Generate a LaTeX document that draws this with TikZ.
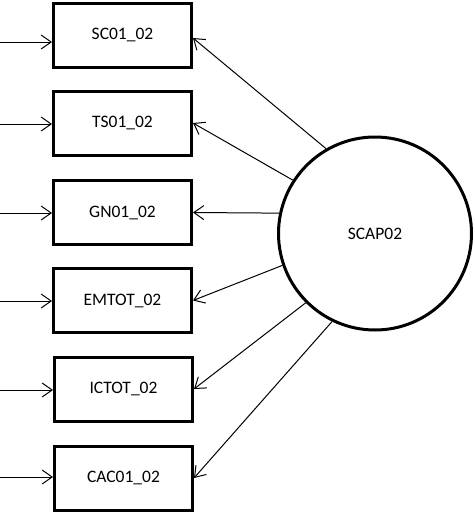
\documentclass[tikz,border=0pt]{standalone}
\usepackage{fontspec}
\setmainfont{Carlito}
\usetikzlibrary{arrows.meta}
\begin{document}
\begin{tikzpicture}[x=1pt,y=1pt,
  obs/.style={draw,line width=3pt,minimum width=138pt,minimum height=64pt,inner sep=0pt,font=\fontsize{17.5}{20}\selectfont},
  lat/.style={draw,circle,line width=3pt,minimum size=193pt,inner sep=0pt,font=\fontsize{17.5}{20}\selectfont},
  arr/.style={line width=1pt,-{Straight Barb[length=10pt,width=14pt,line width=1pt]}}]
\useasboundingbox (0,0) rectangle (474,-514);
\node[obs] (b1) at (122.5,-35) {SC01\_02};
\node[obs] (b2) at (122.5,-123) {TS01\_02};
\node[obs] (b3) at (122.5,-212.5) {GN01\_02};
\node[obs] (b4) at (122.5,-300.5) {EMTOT\_02};
\node[obs] (b5) at (123.5,-389) {ICTOT\_02};
\node[obs] (b6) at (123.5,-478) {CAC01\_02};
\node[lat] (c) at (375,-233.5) {SCAP02};
\coordinate (i1) at (0,-42);
\coordinate (i2) at (0,-124);
\coordinate (i3) at (0,-213);
\coordinate (i4) at (0,-301);
\coordinate (i5) at (0,-390);
\coordinate (i6) at (0,-477);
\draw[arr] (i1) -- (i1 -| b1.west);
\draw[arr] (i2) -- (i2 -| b2.west);
\draw[arr] (i3) -- (i3 -| b3.west);
\draw[arr] (i4) -- (i4 -| b4.west);
\draw[arr] (i5) -- (i5 -| b5.west);
\draw[arr] (i6) -- (i6 -| b6.west);
\draw[arr] (c.120.6) -- ([yshift=-3pt]b1.east);
\draw[arr] (c.147) -- (b2.east);
\draw[arr] (c.168) -- (b3.east);
\draw[arr] (c.199.5) -- (b4.east);
\draw[arr] (c.225.8) -- (b5.east);
\draw[arr] (c.244) -- (b6.east);
\end{tikzpicture}
\end{document}
